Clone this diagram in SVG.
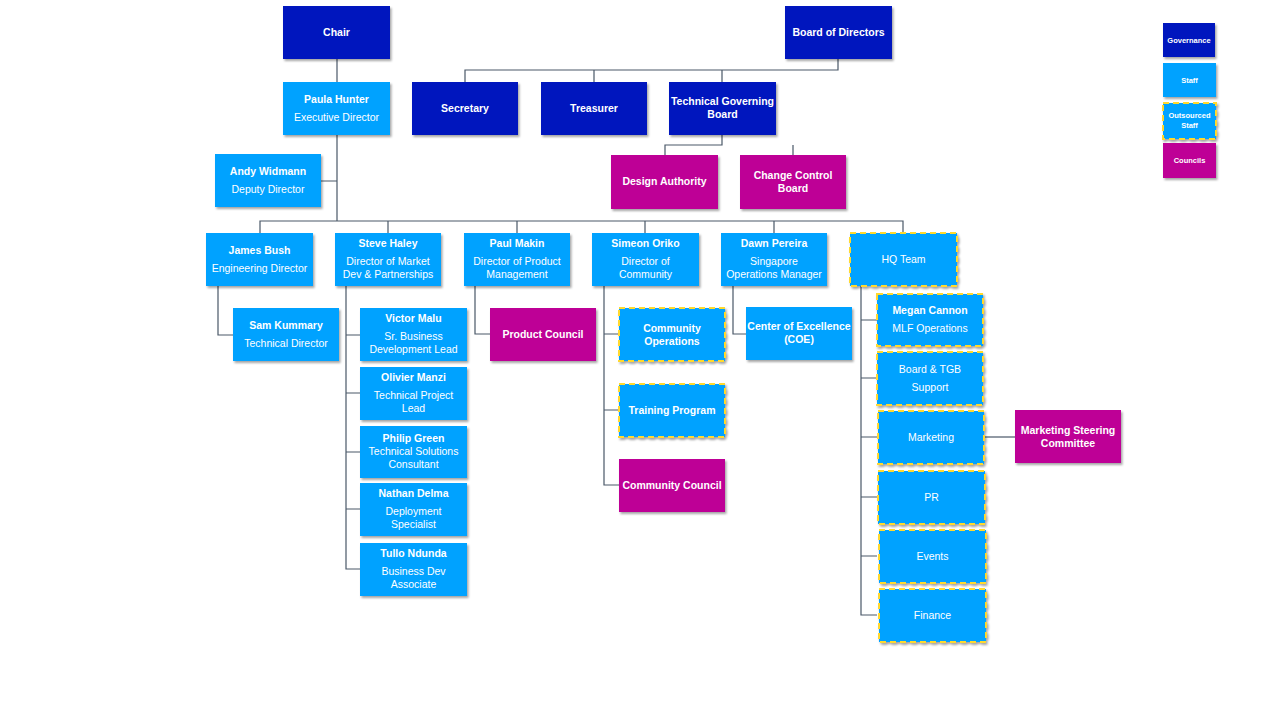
<svg xmlns="http://www.w3.org/2000/svg" width="1280" height="720" viewBox="0 0 1280 720">
<defs>
<filter id="sh" x="-10%" y="-10%" width="130%" height="140%"><feDropShadow dx="1.5" dy="2" stdDeviation="1.2" flood-color="#000" flood-opacity="0.35"/></filter>
<style>
.g{fill:#0212BE;filter:url(#sh)}
.s{fill:#00A2FF;filter:url(#sh)}
.c{fill:#BE0096;filter:url(#sh)}
.o{fill:#00A2FF;stroke:#FFD92F;stroke-width:2;stroke-dasharray:6 4;filter:url(#sh)}
text{font-family:"Liberation Sans",Arial,sans-serif;font-size:10.5px;fill:#fff;text-anchor:middle}
.b{font-weight:bold}
.l{font-size:7.5px;font-weight:bold}
.cn path{fill:none;stroke:#4A5868;stroke-width:1.2}
</style>
</defs>
<rect width="1280" height="720" fill="#fff"/>
<g class="cn">
<path d="M337 59V82"/>
<path d="M838 59V70H465V82M594 70V82M722 70V82"/>
<path d="M722 135V145H665V155M793 145V155"/>
<path d="M337 135V221M321 181H337"/>
<path d="M260 233V221H903V233M388 221V233M517 221V233M645 221V233M774 221V233"/>
<path d="M218 286V335H233"/>
<path d="M346 286V569H360M346 335H360M346 393H360M346 452H360M346 509H360"/>
<path d="M475 286V334H490"/>
<path d="M604 286V485H619M604 334H619M604 410H619"/>
<path d="M733 286V334H746"/>
<path d="M861 286V615H877M861 320H877M861 378H877M861 437H877M861 497H877M861 556H877"/>
<path d="M983 437H1015"/>
</g>
<g id="chair"><rect class="g" x="283" y="6" width="107" height="53"/><text class="b" x="336.5" y="36">Chair</text></g>
<g id="board"><rect class="g" x="785" y="6" width="107" height="53"/><text class="b" x="838.5" y="36">Board of Directors</text></g>
<g id="paula"><rect class="s" x="283" y="82" width="107" height="53"/><text class="b" x="336.5" y="103">Paula Hunter</text><text x="336.5" y="121">Executive Director</text></g>
<g id="secretary"><rect class="g" x="412" y="82" width="106" height="53"/><text class="b" x="465" y="112">Secretary</text></g>
<g id="treasurer"><rect class="g" x="541" y="82" width="106" height="53"/><text class="b" x="594" y="112">Treasurer</text></g>
<g id="tgb"><rect class="g" x="669" y="82" width="107" height="53"/><text class="b" x="722.5" y="105">Technical Governing</text><text class="b" x="722.5" y="118">Board</text></g>
<g id="design"><rect class="c" x="611" y="155" width="107" height="54"/><text class="b" x="664.5" y="185">Design Authority</text></g>
<g id="ccb"><rect class="c" x="740" y="155" width="106" height="54"/><text class="b" x="793" y="179">Change Control</text><text class="b" x="793" y="192">Board</text></g>
<g id="andy"><rect class="s" x="215" y="154" width="106" height="53"/><text class="b" x="268" y="175">Andy Widmann</text><text x="268" y="193">Deputy Director</text></g>
<g id="james"><rect class="s" x="206" y="233" width="107" height="53"/><text class="b" x="259.5" y="254">James Bush</text><text x="259.5" y="272">Engineering Director</text></g>
<g id="steve"><rect class="s" x="335" y="233" width="106" height="53"/><text class="b" x="388" y="247">Steve Haley</text><text x="388" y="265">Director of Market</text><text x="388" y="278">Dev &amp; Partnerships</text></g>
<g id="paul"><rect class="s" x="464" y="233" width="106" height="53"/><text class="b" x="517" y="247">Paul Makin</text><text x="517" y="265">Director of Product</text><text x="517" y="278">Management</text></g>
<g id="simeon"><rect class="s" x="592" y="233" width="107" height="53"/><text class="b" x="645.5" y="247">Simeon Oriko</text><text x="645.5" y="265">Director of</text><text x="645.5" y="278">Community</text></g>
<g id="dawn"><rect class="s" x="721" y="233" width="106" height="53"/><text class="b" x="774" y="247">Dawn Pereira</text><text x="774" y="265">Singapore</text><text x="774" y="278">Operations Manager</text></g>
<g id="hq"><rect class="o" x="850" y="233" width="107" height="53"/><text x="903.5" y="263">HQ Team</text></g>
<g id="sam"><rect class="s" x="233" y="308" width="106" height="53"/><text class="b" x="286" y="329">Sam Kummary</text><text x="286" y="347">Technical Director</text></g>
<g id="victor"><rect class="s" x="360" y="308" width="107" height="53"/><text class="b" x="413.5" y="322">Victor Malu</text><text x="413.5" y="340">Sr. Business</text><text x="413.5" y="353">Development Lead</text></g>
<g id="olivier"><rect class="s" x="360" y="367" width="107" height="53"/><text class="b" x="413.5" y="381">Olivier Manzi</text><text x="413.5" y="399">Technical Project</text><text x="413.5" y="412">Lead</text></g>
<g id="philip"><rect class="s" x="360" y="426" width="107" height="52"/><text class="b" x="413.5" y="442">Philip Green</text><text x="413.5" y="455">Technical Solutions</text><text x="413.5" y="468">Consultant</text></g>
<g id="nathan"><rect class="s" x="360" y="483" width="107" height="53"/><text class="b" x="413.5" y="497">Nathan Delma</text><text x="413.5" y="515">Deployment</text><text x="413.5" y="528">Specialist</text></g>
<g id="tullo"><rect class="s" x="360" y="543" width="107" height="53"/><text class="b" x="413.5" y="557">Tullo Ndunda</text><text x="413.5" y="575">Business Dev</text><text x="413.5" y="588">Associate</text></g>
<g id="product"><rect class="c" x="490" y="308" width="106" height="53"/><text class="b" x="543" y="338">Product  Council</text></g>
<g id="commops"><rect class="o" x="619" y="308" width="106" height="53"/><text class="b" x="672" y="332">Community</text><text class="b" x="672" y="345">Operations</text></g>
<g id="training"><rect class="o" x="619" y="384" width="106" height="53"/><text class="b" x="672" y="414">Training Program</text></g>
<g id="commcouncil"><rect class="c" x="619" y="459" width="106" height="53"/><text class="b" x="672" y="489">Community Council</text></g>
<g id="coe"><rect class="s" x="746" y="307" width="106" height="53"/><text class="b" x="799" y="330">Center of Excellence</text><text class="b" x="799" y="343">(COE)</text></g>
<g id="megan"><rect class="o" x="877" y="294" width="106" height="52"/><text class="b" x="930" y="314">Megan Cannon</text><text x="930" y="332">MLF Operations</text></g>
<g id="boardtgb"><rect class="o" x="877" y="352" width="106" height="53"/><text x="930" y="373">Board &amp; TGB</text><text x="930" y="391">Support</text></g>
<g id="marketing"><rect class="o" x="878" y="411" width="106" height="53"/><text x="931" y="441">Marketing</text></g>
<g id="msc"><rect class="c" x="1015" y="410" width="106" height="53"/><text class="b" x="1068" y="434">Marketing Steering</text><text class="b" x="1068" y="447">Committee</text></g>
<g id="pr"><rect class="o" x="878" y="471" width="107" height="53"/><text x="931.5" y="501">PR</text></g>
<g id="events"><rect class="o" x="879" y="530" width="107" height="53"/><text x="932.5" y="560">Events</text></g>
<g id="finance"><rect class="o" x="879" y="589" width="107" height="53"/><text x="932.5" y="619">Finance</text></g>
<g id="legend">
<rect class="g" x="1163" y="23" width="52" height="34"/><text class="l" x="1189" y="43">Governance</text>
<rect class="s" x="1163" y="63" width="53" height="34"/><text class="l" x="1189.5" y="83">Staff</text>
<rect class="o" x="1163" y="103" width="53" height="36"/><text class="l" x="1189.5" y="118">Outsourced</text><text class="l" x="1189.5" y="128">Staff</text>
<rect class="c" x="1163" y="143" width="53" height="35"/><text class="l" x="1189.5" y="163">Councils</text>
</g>
</svg>
